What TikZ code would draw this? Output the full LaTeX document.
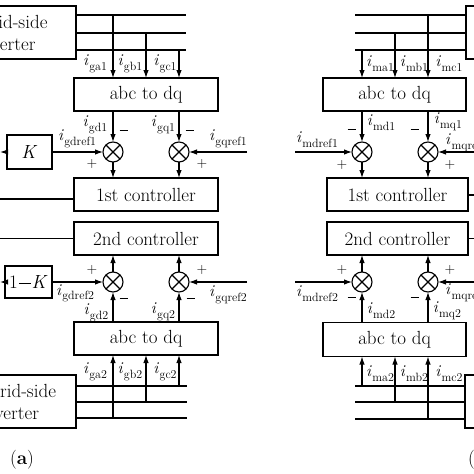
\documentclass[tikz,border=0pt]{standalone}
\usepackage{fontspec}
\usetikzlibrary{arrows.meta}
\newcommand\cur[1]{\textit{i}\kern0.5pt\raisebox{-0.28em}{\fontsize{12}{12}\selectfont #1}}
\newcommand\mns{\rule[0.22em]{0.62em}{0.08em}}
\begin{document}
\begin{tikzpicture}[x=1pt,y=-1pt,
  blk/.style={draw, line width=1.1pt, rectangle, inner sep=0pt, outer sep=0pt, font=\fontsize{19}{22}\selectfont},
  conv/.style={blk, align=right},
  sumn/.style={draw, line width=1.1pt, circle, minimum size=20pt, inner sep=0pt, outer sep=0pt},
  lab/.style={inner sep=0pt, font=\fontsize{16.5}{18}\selectfont},
  sgn/.style={inner sep=0pt, font=\fontsize{14}{14}\selectfont},
  wire/.style={line width=1.1pt},
  arr/.style={wire, -{Latex[length=8pt,width=5.5pt]}},
]
\useasboundingbox (0,0) rectangle (474,474);
\clip (0,0) rectangle (474,474);

% ---------------- left panel ----------------
\node[conv, minimum width=126pt, minimum height=53pt] (g1) at (13,32.5) {};
\node[inner sep=0pt, align=right, font=\fontsize{19}{22}\selectfont] (g1t) at (6.5,32.5) {Grid-side\\converter\kern12pt};
\node[conv, minimum width=126pt, minimum height=53pt] (g2) at (13,401.5) {};
\node[inner sep=0pt, align=right, font=\fontsize{19}{22}\selectfont] (g2t) at (12.5,401.5) {Grid-side\\converter\kern17pt};
\node[blk, minimum width=144pt, minimum height=33pt] (abc1) at (146,94.5) {abc to dq};
\node[blk, minimum width=144pt, minimum height=33pt] (c1) at (146,194.5) {1st controller};
\node[blk, minimum width=144pt, minimum height=33pt] (c2) at (146,238.5) {2nd controller};
\node[blk, minimum width=144pt, minimum height=33pt] (abc2) at (146,338.5) {abc to dq};
\node[sumn] (s1) at (113,152) {};
\node[sumn] (s2) at (179,152) {};
\node[sumn] (s3) at (113,282) {};
\node[sumn] (s4) at (179,282) {};
\node[blk, minimum width=45pt, minimum height=34pt] (k1) at (29.5,152) {\textit{K}};
\node[blk, minimum width=47pt, minimum height=32pt] (k2) at (28.5,282) {1\kern1pt\mns\kern1pt\textit{K}};

% three-phase lines (top left)
\coordinate (e1) at (186,15); \coordinate (e2) at (186,33); \coordinate (e3) at (186,50);
\draw[wire] (g1.east |- e1) -- (e1);
\draw[wire] (g1.east |- e2) -- (e2);
\draw[wire] (g1.east |- e3) -- (e3);
\coordinate (t1) at (113,15); \coordinate (t2) at (146,33); \coordinate (t3) at (179,50);
\draw[arr] (t1) -- (t1 |- abc1.north);
\draw[arr] (t2) -- (t2 |- abc1.north);
\draw[arr] (t3) -- (t3 |- abc1.north);
% three-phase lines (bottom left)
\coordinate (f1) at (187,386); \coordinate (f2) at (187,402); \coordinate (f3) at (187,418);
\draw[wire] (g2.east |- f1) -- (f1);
\draw[wire] (g2.east |- f2) -- (f2);
\draw[wire] (g2.east |- f3) -- (f3);
\coordinate (u1) at (113,418); \coordinate (u2) at (146,402); \coordinate (u3) at (179,386);
\draw[arr] (u1) -- (u1 |- abc2.south);
\draw[arr] (u2) -- (u2 |- abc2.south);
\draw[arr] (u3) -- (u3 |- abc2.south);

% dq signals
\draw[arr] (abc1.south -| s1) -- (s1);
\draw[arr] (abc1.south -| s2) -- (s2);
\draw[arr] (s1) -- (s1 |- c1.north);
\draw[arr] (s2) -- (s2 |- c1.north);
\draw[arr] (abc2.north -| s3) -- (s3);
\draw[arr] (abc2.north -| s4) -- (s4);
\draw[arr] (s3) -- (s3 |- c2.south);
\draw[arr] (s4) -- (s4 |- c2.south);
\draw[arr] (k1) -- (s1);
\draw[arr] (k2) -- (s3);
\coordinate (kl1) at (0,152); \coordinate (kl2) at (0,282);
\draw[arr] (k1.west) -- (kl1);
\draw[arr] (k2.west) -- (kl2);
\coordinate (r1) at (247,152); \coordinate (r2) at (247,282);
\draw[arr] (r1) -- (s2);
\draw[arr] (r2) -- (s4);
\coordinate (cl1) at (0,199); \coordinate (cl2) at (0,238.5);
\draw[wire] (c1.west |- cl1) -- (cl1);
\draw[wire] (c2.west |- cl2) -- (cl2);

% labels left
\node[lab] (la1) at (95,64) {\cur{ga1}};
\node[lab] (lb1) at (130,64) {\cur{gb1}};
\node[lab] (lc1) at (165,64) {\cur{gc1}};
\node[lab] (ld1) at (95,125) {\cur{gd1}};
\node[lab] (lq1) at (163,125) {\cur{gq1}};
\node[lab] (ldr1) at (77,139) {\cur{gdref1}};
\node[lab] (lqr1) at (228,139) {\cur{gqref1}};
\node[lab] (ldr2) at (75,293.5) {\cur{gdref2}};
\node[lab] (lqr2) at (228,295) {\cur{gqref2}};
\node[lab] (ld2) at (96,313) {\cur{gd2}};
\node[lab] (lq2) at (163,312) {\cur{gq2}};
\node[lab] (la2) at (95,372) {\cur{ga2}};
\node[lab] (lb2) at (130,372) {\cur{gb2}};
\node[lab] (lc2) at (165,372) {\cur{gc2}};
\node[sgn] (m1) at (124,132) {\mns};
\node[sgn] (m2) at (190,132) {\mns};
\node[sgn] (p1) at (92,164) {+};
\node[sgn] (p2) at (202,164) {+};
\node[sgn] (p3) at (92,270) {+};
\node[sgn] (p4) at (202,270) {+};
\node[sgn] (m3) at (124,300) {\mns};
\node[sgn] (m4) at (191,300) {\mns};
\node[inner sep=0pt, font=\fontsize{19}{20}\selectfont] (capa) at (22,460) {(\textbf{a})};

% ---------------- right panel ----------------
\node[blk, minimum width=134pt, minimum height=53pt] (h1) at (533,32.5) {};
\node[blk, minimum width=134pt, minimum height=53pt] (h2) at (532,401.5) {};
\node[blk, minimum width=143pt, minimum height=33pt] (abc3) at (394.5,94.5) {abc to dq};
\node[blk, minimum width=141pt, minimum height=33pt] (c3) at (397.5,194.5) {1st controller};
\node[blk, minimum width=141pt, minimum height=33pt] (c4) at (397.5,238.5) {2nd controller};
\node[blk, minimum width=143pt, minimum height=34pt] (abc4) at (394.5,339.5) {abc to dq};
\node[sumn] (s5) at (362,152) {};
\node[sumn] (s6) at (428,152) {};
\node[sumn] (s7) at (362,282) {};
\node[sumn] (s8) at (428,282) {};

\coordinate (x1) at (355,15); \coordinate (x2) at (355,33); \coordinate (x3) at (355,50);
\draw[wire] (x1) -- (x1 -| h1.west);
\draw[wire] (x2) -- (x2 -| h1.west);
\draw[wire] (x3) -- (x3 -| h1.west);
\coordinate (v1) at (362,50); \coordinate (v2) at (395,33); \coordinate (v3) at (428,15);
\draw[arr] (v1) -- (v1 |- abc3.north);
\draw[arr] (v2) -- (v2 |- abc3.north);
\draw[arr] (v3) -- (v3 |- abc3.north);
\coordinate (y1) at (355,386); \coordinate (y2) at (355,402); \coordinate (y3) at (355,419);
\draw[wire] (y1) -- (y1 -| h2.west);
\draw[wire] (y2) -- (y2 -| h2.west);
\draw[wire] (y3) -- (y3 -| h2.west);
\coordinate (w1) at (362,386); \coordinate (w2) at (395,402); \coordinate (w3) at (428,419);
\draw[arr] (w1) -- (w1 |- abc4.south);
\draw[arr] (w2) -- (w2 |- abc4.south);
\draw[arr] (w3) -- (w3 |- abc4.south);

\draw[arr] (abc3.south -| s5) -- (s5);
\draw[arr] (abc3.south -| s6) -- (s6);
\draw[arr] (s5) -- (s5 |- c3.north);
\draw[arr] (s6) -- (s6 |- c3.north);
\draw[arr] (abc4.north -| s7) -- (s7);
\draw[arr] (abc4.north -| s8) -- (s8);
\draw[arr] (s7) -- (s7 |- c4.south);
\draw[arr] (s8) -- (s8 |- c4.south);
\coordinate (q1) at (295,152); \coordinate (q2) at (295,282);
\coordinate (q3) at (474,152); \coordinate (q4) at (474,282);
\draw[arr] (q1) -- (s5);
\draw[arr] (q2) -- (s7);
\draw[arr] (q3) -- (s6);
\draw[arr] (q4) -- (s8);
\coordinate (cr1) at (474,195); \coordinate (cr2) at (474,238.5);
\draw[wire] (c3.east |- cr1) -- (cr1);
\draw[wire] (c4.east |- cr2) -- (cr2);

\foreach \s in {s1,s2,s3,s4,s5,s6,s7,s8}
  \draw[wire] (\s.north west) -- (\s.south east) (\s.north east) -- (\s.south west);

% labels right
\node[lab] (na1) at (380,64) {\cur{ma1}};
\node[lab] (nb1) at (414,64) {\cur{mb1}};
\node[lab] (nc1) at (449,64) {\cur{mc1}};
\node[lab] (nd1) at (381,123) {\cur{md1}};
\node[lab] (nq1) at (448,122) {\cur{mq1}};
\node[lab] (ndr1) at (317,140) {\cur{mdref1}};
\node[lab] (nqr1) at (466,143) {\cur{mqref1}};
\node[lab] (ndr2) at (317,294) {\cur{mdref2}};
\node[lab] (nqr2) at (466,293) {\cur{mqref2}};
\node[lab] (nd2) at (381,311) {\cur{md2}};
\node[lab] (nq2) at (447,311) {\cur{mq2}};
\node[lab] (na2) at (380,374) {\cur{ma2}};
\node[lab] (nb2) at (414,374) {\cur{mb2}};
\node[lab] (nc2) at (449,374) {\cur{mc2}};
\node[sgn] (m5) at (352,131) {\mns};
\node[sgn] (m6) at (415,131) {\mns};
\node[sgn] (p5) at (342,165) {+};
\node[sgn] (p6) at (450,165) {+};
\node[sgn] (p7) at (342,270) {+};
\node[sgn] (p8) at (450,270) {+};
\node[sgn] (m7) at (352,299) {\mns};
\node[sgn] (m8) at (415,299) {\mns};
\node[inner sep=0pt, anchor=west, font=\fontsize{19}{20}\selectfont] (capb) at (468,460) {(\textbf{b})};
\end{tikzpicture}
\end{document}
